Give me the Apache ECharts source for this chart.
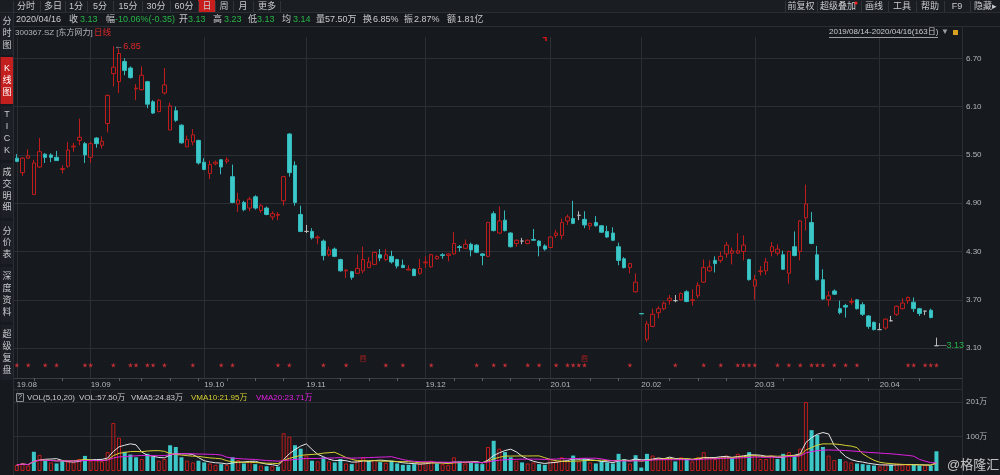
<!DOCTYPE html>
<html>
<head>
<meta charset="utf-8">
<script src="https://cdn.jsdelivr.net/npm/echarts@6/dist/echarts.min.js"></script>
<style>
html,body{margin:0;padding:0;background:#16191e;}
#main{width:1000px;height:475px;}
</style>
</head>
<body>
<div id="main"></div>
<script>
// 交易日
var dates = [
 '2019-08-14','2019-08-15','2019-08-16','2019-08-19','2019-08-20','2019-08-21','2019-08-22','2019-08-23','2019-08-26','2019-08-27','2019-08-28','2019-08-29','2019-08-30',
 '2019-09-02','2019-09-03','2019-09-04','2019-09-05','2019-09-06','2019-09-09','2019-09-10','2019-09-11','2019-09-12','2019-09-16','2019-09-17','2019-09-18','2019-09-19','2019-09-20','2019-09-23','2019-09-24','2019-09-25','2019-09-26','2019-09-27','2019-09-30',
 '2019-10-08','2019-10-09','2019-10-10','2019-10-11','2019-10-14','2019-10-15','2019-10-16','2019-10-17','2019-10-18','2019-10-21','2019-10-22','2019-10-23','2019-10-24','2019-10-25','2019-10-28','2019-10-29','2019-10-30','2019-10-31',
 '2019-11-01','2019-11-04','2019-11-05','2019-11-06','2019-11-07','2019-11-08','2019-11-11','2019-11-12','2019-11-13','2019-11-14','2019-11-15','2019-11-18','2019-11-19','2019-11-20','2019-11-21','2019-11-22','2019-11-25','2019-11-26','2019-11-27','2019-11-28','2019-11-29',
 '2019-12-02','2019-12-03','2019-12-04','2019-12-05','2019-12-06','2019-12-09','2019-12-10','2019-12-11','2019-12-12','2019-12-13','2019-12-16','2019-12-17','2019-12-18','2019-12-19','2019-12-20','2019-12-23','2019-12-24','2019-12-25','2019-12-26','2019-12-27','2019-12-30','2019-12-31',
 '2020-01-02','2020-01-03','2020-01-06','2020-01-07','2020-01-08','2020-01-09','2020-01-10','2020-01-13','2020-01-14','2020-01-15','2020-01-16','2020-01-17','2020-01-20','2020-01-21','2020-01-22','2020-01-23',
 '2020-02-03','2020-02-04','2020-02-05','2020-02-06','2020-02-07','2020-02-10','2020-02-11','2020-02-12','2020-02-13','2020-02-14','2020-02-17','2020-02-18','2020-02-19','2020-02-20','2020-02-21','2020-02-24','2020-02-25','2020-02-26','2020-02-27','2020-02-28',
 '2020-03-02','2020-03-03','2020-03-04','2020-03-05','2020-03-06','2020-03-09','2020-03-10','2020-03-11','2020-03-12','2020-03-13','2020-03-16','2020-03-17','2020-03-18','2020-03-19','2020-03-20','2020-03-23','2020-03-24','2020-03-25','2020-03-26','2020-03-27','2020-03-30','2020-03-31',
 '2020-04-01','2020-04-02','2020-04-03','2020-04-07','2020-04-08','2020-04-09','2020-04-10','2020-04-13','2020-04-14','2020-04-15','2020-04-16'
];

// [开, 收, 低, 高]
var ohlc = [
 // 8月
 [5.46,5.42,5.41,5.51],[5.28,5.46,5.24,5.47],[5.46,5.49,5.45,5.57],[5.01,5.40,5.00,5.44],[5.35,5.54,5.34,5.71],
 [5.51,5.47,5.40,5.52],[5.50,5.47,5.41,5.52],[5.47,5.43,5.43,5.55],[5.32,5.33,5.27,5.37],[5.36,5.56,5.34,5.66],
 [5.60,5.61,5.54,5.65],[5.68,5.72,5.62,5.95],[5.64,5.50,5.40,5.66],
 // 9月
 [5.47,5.64,5.40,5.66],[5.71,5.64,5.59,5.72],[5.62,5.67,5.58,5.73],[5.89,6.24,5.78,6.25],[6.51,6.59,6.35,6.85],
 [6.41,6.76,6.27,6.82],[6.66,6.55,6.49,6.70],[6.58,6.46,6.45,6.60],[6.32,6.33,6.18,6.38],[6.31,6.49,6.30,6.60],
 [6.41,6.13,6.08,6.42],[6.16,6.02,6.01,6.18],[6.04,6.18,6.03,6.19],[6.27,6.37,6.25,6.58],[5.81,6.11,5.81,6.15],
 [6.05,5.93,5.91,6.10],[5.87,5.65,5.64,5.88],[5.60,5.69,5.60,5.74],[5.66,5.75,5.62,5.82],[5.68,5.40,5.38,5.69],
 // 10月
 [5.41,5.32,5.31,5.46],[5.27,5.38,5.20,5.43],[5.39,5.41,5.37,5.43],[5.44,5.35,5.26,5.45],[5.42,5.44,5.39,5.47],
 [5.23,4.91,4.90,5.38],[4.89,4.94,4.79,5.03],[4.91,4.82,4.80,4.93],[4.84,4.95,4.80,4.98],[4.98,4.84,4.82,5.00],
 [4.81,4.87,4.78,4.89],[4.84,4.76,4.75,4.86],[4.73,4.77,4.69,4.80],[4.75,4.76,4.69,4.79],[4.93,5.23,4.87,5.24],
 [5.76,5.28,5.23,5.77],[5.37,4.91,4.87,5.42],[4.76,4.55,4.54,4.87],
 // 11月
 [4.55,4.55,4.53,4.63],[4.55,4.47,4.45,4.59],[4.47,4.48,4.39,4.50],[4.43,4.25,4.19,4.45],[4.26,4.32,4.24,4.36],
 [4.33,4.24,4.23,4.35],[4.20,4.06,4.05,4.21],[4.06,4.07,3.97,4.08],[4.05,3.98,3.95,4.06],[4.03,4.09,4.02,4.26],
 [4.06,4.20,4.03,4.36],[4.10,4.17,4.10,4.23],[4.14,4.29,4.13,4.30],[4.26,4.22,4.18,4.33],[4.20,4.26,4.18,4.33],
 [4.24,4.17,4.15,4.31],[4.20,4.12,4.09,4.21],[4.13,4.10,4.10,4.20],[4.07,4.08,4.07,4.13],[4.08,4.00,4.00,4.09],
 [4.03,4.09,4.01,4.21],
 // 12月
 [4.16,4.17,4.10,4.24],[4.11,4.26,4.10,4.27],[4.21,4.24,4.20,4.25],[4.26,4.25,4.21,4.28],[4.25,4.27,4.18,4.28],
 [4.27,4.40,4.26,4.54],[4.36,4.35,4.30,4.38],[4.34,4.39,4.33,4.45],[4.39,4.32,4.24,4.41],[4.38,4.29,4.28,4.39],
 [4.27,4.25,4.13,4.28],[4.24,4.66,4.23,4.67],[4.77,4.56,4.55,4.80],[4.53,4.68,4.52,4.86],[4.69,4.56,4.55,4.81],
 [4.53,4.36,4.35,4.54],[4.40,4.44,4.36,4.45],[4.43,4.43,4.39,4.47],[4.40,4.44,4.39,4.45],[4.45,4.44,4.44,4.58],
 [4.43,4.37,4.24,4.44],[4.37,4.33,4.31,4.39],
 // 1月
 [4.35,4.48,4.34,4.49],[4.50,4.53,4.47,4.57],[4.50,4.66,4.45,4.71],[4.68,4.73,4.63,4.76],[4.71,4.65,4.64,4.93],
 [4.75,4.75,4.69,4.80],[4.70,4.63,4.59,4.80],[4.62,4.65,4.57,4.66],[4.66,4.62,4.61,4.74],[4.62,4.54,4.53,4.63],
 [4.55,4.48,4.47,4.62],[4.53,4.44,4.43,4.60],[4.36,4.19,4.13,4.41],[4.21,4.10,4.09,4.23],[4.10,4.15,4.03,4.16],
 [3.80,3.92,3.79,4.03],
 // 2月
 [3.53,3.525,3.525,3.53],[3.21,3.40,3.18,3.44],[3.37,3.52,3.36,3.59],[3.54,3.59,3.47,3.62],[3.59,3.66,3.57,3.68],
 [3.69,3.72,3.64,3.76],[3.69,3.69,3.67,3.76],[3.70,3.78,3.69,3.79],[3.80,3.68,3.67,3.82],[3.69,3.70,3.63,3.83],
 [3.75,3.88,3.72,3.92],[3.92,4.10,3.91,4.20],[4.06,4.11,4.05,4.19],[4.19,4.15,4.04,4.24],[4.19,4.24,4.16,4.30],
 [4.27,4.38,4.22,4.42],[4.28,4.31,4.14,4.35],[4.28,4.31,4.27,4.53],[4.30,4.38,4.19,4.50],[4.20,3.95,3.94,4.21],
 // 3月
 [3.87,3.95,3.70,4.01],[4.05,4.06,4.00,4.12],[4.06,4.17,4.01,4.22],[4.30,4.36,4.24,4.42],[4.28,4.33,4.25,4.39],
 [4.26,4.08,4.07,4.31],[4.03,4.30,3.90,4.31],[4.36,4.25,4.24,4.55],[4.30,4.68,4.19,4.69],[4.72,4.89,4.56,5.13],
 [4.66,4.40,4.39,4.79],[4.26,3.95,3.94,4.37],[3.95,3.71,3.70,4.08],[3.70,3.75,3.62,3.81],[3.81,3.77,3.76,3.83],
 [3.59,3.54,3.52,3.69],[3.63,3.61,3.48,3.65],[3.67,3.68,3.64,3.72],[3.70,3.59,3.58,3.71],[3.64,3.52,3.50,3.67],
 [3.50,3.37,3.34,3.51],[3.42,3.33,3.32,3.43],
 // 4月
 [3.33,3.33,3.33,3.41],[3.35,3.46,3.33,3.47],[3.44,3.44,3.43,3.50],[3.52,3.62,3.50,3.63],[3.59,3.66,3.58,3.72],
 [3.69,3.73,3.65,3.74],[3.67,3.59,3.55,3.73],[3.59,3.53,3.50,3.60],[3.56,3.56,3.51,3.56],[3.57,3.48,3.47,3.59],
 [3.13,3.13,3.13,3.23]
];

// 成交量(万)
var volume = [
 18,22,16,56,47,30,25,22,30,28,25,35,44,
 30,32,28,55,140,97,56,48,40,35,50,42,30,35,75,70,40,30,25,30,
 25,22,18,20,18,40,32,22,28,20,16,14,14,13,110,100,75,65,
 45,30,28,40,28,25,35,22,20,30,40,30,32,26,24,30,22,18,18,20,22,
 28,30,22,20,18,40,28,22,25,22,20,70,88,65,55,40,30,25,22,25,20,18,
 35,28,40,30,45,28,35,25,22,28,25,22,50,35,22,46,
 10,50,45,38,35,35,28,40,35,28,40,55,38,35,40,45,40,50,45,55,
 45,35,35,45,35,50,55,45,65,201,119,105,70,45,32,35,28,25,22,20,18,16,
 13.7,20,18,21,19,17.35,18,16,17,15.65,57.5
];

var priceTicks = [3.10, 3.70, 4.30, 4.90, 5.50, 6.10, 6.70];
var volTicks = [100, 201];
var starIdx = [0,2,5,7,12,13,17,20,21,23,24,26,31,36,38,46,48,54,58,65,68,73,81,84,86,90,92,95,97,98,99,100,108,116,121,124,127,128,129,130,134,136,138,140,141,142,144,146,148,157,158,160,161,162];
var rIdx = [61, 100];
var flagIdx = 93;

var BG = '#16191e', GRID = '#2b2e34', TXT = '#b4b7bc', LBL = '#c8cacd';
var RED = '#c01c1c', CYAN = '#3cc8c8', GREEN = '#27b447', DOJI = '#b8b8b8';
var FONT = "'Liberation Sans','Noto Sans CJK SC',sans-serif";

var N = dates.length;
var cats = dates.concat(['', '', '', '']);
var monthSet = {}, tickSet = {}, monthIdx = [];
for (var i = 0; i < N; i++) {
  if (i === 0 || dates[i].slice(0, 7) !== dates[i - 1].slice(0, 7)) { monthSet[i] = true; monthIdx.push(i); }
}
for (var i = 0; i < N; i++) {
  var d = new Date(dates[i] + 'T00:00:00Z');
  if (d.getUTCDay() === 1 && d.getUTCDate() > 7 && !monthSet[i]) tickSet[i] = true;
}

// 量柱颜色按涨跌(与前收比较)
var volData = [];
for (var i = 0; i < N; i++) {
  var up = i === 0 || ohlc[i][1] >= ohlc[i - 1][1];
  volData.push({
    value: volume[i],
    itemStyle: up ? {color: 'transparent', borderColor: RED, borderWidth: 1} : {color: CYAN}
  });
}
function ma(n) {
  var r = [];
  for (var i = 0; i < N; i++) {
    var s = 0, k = 0;
    for (var j = Math.max(0, i - n + 1); j <= i; j++) { s += volume[j]; k++; }
    r.push(+(s / k).toFixed(2));
  }
  return r;
}
var ma5 = ma(5), ma10 = ma(10), ma20 = ma(20);

var hiIdx = 0;
for (var i = 1; i < N; i++) if (ohlc[i][3] > ohlc[hiIdx][3]) hiIdx = i;
var last = ohlc[N - 1], prevClose = ohlc[N - 2][1];

// 界面部分
var gfx = [];
function txt(x, y, s, color, size, align) {
  gfx.push({type: 'text', x: x, y: y, silent: true, z: 10,
    style: {text: s, fill: color, font: (size || 9) + 'px ' + FONT,
      align: align || 'left', verticalAlign: 'middle', textAlign: align || 'left', textVerticalAlign: 'middle'}});
}
function line(x1, y1, x2, y2, color) {
  gfx.push({type: 'line', silent: true, z: 5, shape: {x1: x1, y1: y1, x2: x2, y2: y2}, style: {stroke: color, lineWidth: 1}});
}
function box(x, y, w, h, fill) {
  gfx.push({type: 'rect', silent: true, z: 1, shape: {x: x, y: y, width: w, height: h}, style: {fill: fill}});
}

// 顶部工具栏
box(0, 0, 1000, 12.5, '#1a1d22');
box(198, 0, 17, 12.5, '#c81e1e');
[13, 40, 65, 87, 113, 142, 170, 198, 215, 233, 253, 280, 785, 817, 861, 888, 916, 944, 970].forEach(function (x) { line(x + 0.5, 1, x + 0.5, 12, '#30333a'); });
[['分时', 26], ['多日', 53], ['1分', 76], ['5分', 100], ['15分', 128], ['30分', 156], ['60分', 184], ['日', 207], ['周', 224], ['月', 243], ['更多', 267],
 ['前复权', 801], ['超级叠加', 838], ['画线', 874], ['工具', 902], ['帮助', 930], ['F9', 957]].forEach(function (b) { txt(b[1], 6.5, b[0], LBL, 9, 'center'); });
txt(974, 6.5, '隐藏▸', LBL, 9);
gfx.push({type: 'circle', silent: true, z: 10, shape: {cx: 856, cy: 3, r: 1.5}, style: {fill: '#ff2020'}});
line(0, 12.5, 1000, 12.5, '#2a2d33');
line(14, 26.5, 1000, 26.5, '#2a2d33');

// 行情信息
var chg = last[1] - prevClose;
var info = [
  ['2020/04/16', 16, LBL], ['收', 69, LBL], [last[1].toFixed(2), 80, GREEN],
  ['幅', 106, LBL], [(chg / prevClose * 100).toFixed(2) + '%(' + chg.toFixed(2) + ')', 115, GREEN],
  ['开', 179, LBL], [last[0].toFixed(2), 188, GREEN], ['高', 213, LBL], [last[3].toFixed(2), 224, GREEN],
  ['低', 248, LBL], [last[2].toFixed(2), 257, GREEN], ['均', 282, LBL], ['3.14', 293, GREEN],
  ['量', 316, LBL], [volume[N - 1].toFixed(2) + '万', 325, LBL], ['换', 363, LBL], ['6.85%', 373, LBL],
  ['振', 404, LBL], [((last[3] - last[2]) / prevClose * 100).toFixed(2) + '%', 414, LBL], ['额', 447, LBL], ['1.81亿', 457, LBL]
];
info.forEach(function (t) { txt(t[1], 19.5, t[0], t[2], 9); });

txt(15, 32.5, '300367.SZ [东方网力]', TXT, 8);
txt(94, 32.5, '日线', '#e02828', 8.5);
txt(829, 32, '2019/08/14-2020/04/16(163日)', LBL, 8);
line(829, 37.5, 938, 37.5, '#9a9da2');
txt(941, 32, '▼', '#9a9da2', 8);
box(953, 30, 5, 5, '#d8a020');

// 左侧栏
box(0, 13, 13.5, 462, '#16191e');
[[14, 55], [57, 104], [106, 160], [163, 218], [221, 264], [267, 322], [325, 380]].forEach(function (g) { box(0.5, g[0], 12.5, g[1] - g[0], '#1c1f25'); });
box(0.5, 57, 12.5, 47, '#c41f1f');
var side = [['分', 22], ['时', 34], ['图', 46], ['K', 69], ['线', 81], ['图', 93], ['T', 115], ['I', 127], ['C', 139], ['K', 151],
  ['成', 173], ['交', 185], ['明', 197], ['细', 208], ['分', 232], ['价', 243], ['表', 255], ['深', 277], ['度', 289], ['资', 301], ['料', 313],
  ['超', 335], ['级', 347], ['复', 359], ['盘', 371]];
side.forEach(function (s) { txt(7, s[1], s[0], s[1] > 60 && s[1] < 100 ? '#ffffff' : LBL, 9, 'center'); });
line(13.5, 13, 13.5, 475, '#2a2d33');
line(962.5, 26, 962.5, 475, '#2a2d33');
line(14, 389.5, 962, 389.5, '#2a2d33');

// 成交量图例
gfx.push({type: 'rect', silent: true, z: 10, shape: {x: 16.5, y: 393.5, width: 7, height: 8}, style: {fill: 'none', stroke: '#8a8d92', lineWidth: 1}});
txt(20, 397.5, '?', LBL, 7, 'center');
txt(27, 397.5, 'VOL(5,10,20)', LBL, 8);
txt(79, 397.5, 'VOL:' + volume[N - 1].toFixed(2) + '万', LBL, 8);
txt(131, 397.5, 'VMA5:' + ma5[N - 1].toFixed(2) + '万', LBL, 8);
txt(191, 397.5, 'VMA10:' + ma10[N - 1].toFixed(2) + '万', '#d8d030', 8);
txt(256, 397.5, 'VMA20:' + ma20[N - 1].toFixed(2) + '万', '#e020e0', 8);
txt(947, 465, '@格隆汇', 'rgba(225,225,225,0.85)', 13);

var starPath = 'path://M50,0 L61,35 L98,35 L68,57 L79,91 L50,70 L21,91 L32,57 L2,35 L39,35 Z';
var flagPath = 'path://M0,0 L10,0 L10,9 L6,9 L6,3 L0,3 Z';
var starRow = 2.89, rRow = 2.97, flagRow = 6.94;

var priceLines = priceTicks.map(function (v) {
  return {yAxis: v, label: {show: true, position: 'end', formatter: v.toFixed(2), color: TXT, fontSize: 8, distance: 4}};
});
var volLines = volTicks.map(function (v) {
  return {yAxis: v, label: {show: true, position: 'end', formatter: v + '万', color: TXT, fontSize: 8, distance: 4}};
});
var monthLines = monthIdx.map(function (i) { return {xAxis: i, label: {show: false}}; });

var chart = echarts.init(document.getElementById('main'));
var option = {
  backgroundColor: BG,
  animation: false,
  textStyle: {fontFamily: FONT},
  graphic: {elements: gfx},
  grid: [
    {left: 14, right: 38, top: 37, height: 341},
    {left: 14, right: 38, top: 390, height: 81}
  ],
  xAxis: [
    {type: 'category', gridIndex: 0, data: cats, boundaryGap: true,
      axisLine: {lineStyle: {color: '#3a3d43'}},
      axisTick: {show: true, alignWithLabel: true, length: 3, interval: function (i) { return !!tickSet[i]; }, lineStyle: {color: '#5a5e64'}},
      axisLabel: {interval: function (i) { return !!monthSet[i]; }, formatter: function (v) { return v ? v.slice(2, 4) + '.' + v.slice(5, 7) : ''; },
        align: 'left', color: TXT, fontSize: 8, margin: 3},
      splitLine: {show: false}},
    {type: 'category', gridIndex: 1, data: cats, boundaryGap: true,
      axisLine: {show: false}, axisTick: {show: false}, axisLabel: {show: false}, splitLine: {show: false}}
  ],
  yAxis: [
    {type: 'value', gridIndex: 0, min: 2.729, max: 6.965, show: false},
    {type: 'value', gridIndex: 1, min: 0, max: 236, show: false}
  ],
  series: [
    {type: 'candlestick', xAxisIndex: 0, yAxisIndex: 0, barWidth: 4, z: 3,
      data: ohlc,
      itemStyle: {color: 'transparent', color0: CYAN, borderColor: RED, borderColor0: '#34b9bb', borderColorDoji: DOJI, borderWidth: 1},
      markLine: {silent: true, z: 1, symbol: ['none', 'none'], animation: false,
        lineStyle: {color: GRID, width: 1, type: 'solid'}, label: {show: false}, emphasis: {disabled: true},
        data: priceLines.concat(monthLines)},
      markPoint: {silent: true, animation: false, symbol: 'circle', symbolSize: 0,
        data: [
          {coord: [hiIdx, ohlc[hiIdx][3]], label: {show: true, position: 'right', distance: 1, formatter: '{a|←}{b|' + ohlc[hiIdx][3].toFixed(2) + '}',
            rich: {a: {color: '#9a9da2', fontSize: 9}, b: {color: '#e02828', fontSize: 9}}}},
          {coord: [N - 1, last[1]], label: {show: true, position: 'right', distance: 1, formatter: '{a|—}{b|' + last[1].toFixed(2) + '}',
            rich: {a: {color: '#9a9da2', fontSize: 9}, b: {color: GREEN, fontSize: 9}}}},
          {coord: [flagIdx, flagRow], symbol: flagPath, symbolSize: [4, 4], itemStyle: {color: '#d01818'}, label: {show: false}}
        ]}
    },
    {type: 'scatter', xAxisIndex: 0, yAxisIndex: 0, z: 4, symbol: starPath, symbolSize: 5,
      itemStyle: {color: '#e8343a'}, data: starIdx.map(function (i) { return [i, starRow]; })},
    {type: 'scatter', xAxisIndex: 0, yAxisIndex: 0, z: 4, symbol: 'rect', symbolSize: [5, 6],
      itemStyle: {color: 'transparent', borderColor: '#c02020', borderWidth: 0.6},
      label: {show: true, position: 'inside', formatter: 'R', color: '#d02020', fontSize: 6},
      data: rIdx.map(function (i) { return [i, rRow]; })},
    {type: 'bar', xAxisIndex: 1, yAxisIndex: 1, barWidth: 4, z: 3, data: volData,
      markLine: {silent: true, z: 1, symbol: ['none', 'none'], animation: false,
        lineStyle: {color: GRID, width: 1, type: 'solid'}, label: {show: false}, emphasis: {disabled: true},
        data: volLines.concat(monthLines)}},
    {type: 'line', xAxisIndex: 1, yAxisIndex: 1, z: 5, data: ma5, showSymbol: false, symbol: 'none', lineStyle: {color: '#e6e6e6', width: 1}},
    {type: 'line', xAxisIndex: 1, yAxisIndex: 1, z: 5, data: ma10, showSymbol: false, symbol: 'none', lineStyle: {color: '#d8d030', width: 1}},
    {type: 'line', xAxisIndex: 1, yAxisIndex: 1, z: 5, data: ma20, showSymbol: false, symbol: 'none', lineStyle: {color: '#e020e0', width: 1}}
  ]
};
chart.setOption(option);
</script>
</body>
</html>
